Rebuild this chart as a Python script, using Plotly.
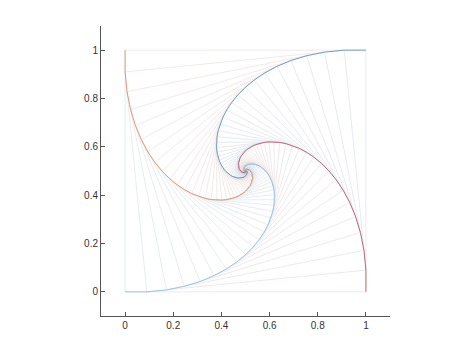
import plotly.graph_objects as go

# --- data: pursuit ("mice") problem on the unit square ---
start_x = [0.0, 1.0, 1.0, 0.0]   # corners: bottom-left, bottom-right, top-right, top-left
start_y = [0.0, 0.0, 1.0, 1.0]
step_fraction = 0.09             # fraction of the gap each point moves per step
n_steps = 90
curve_colors = ["#8cc6e4", "#b85a6c", "#6594c0", "#e5906a"]
edge_colors = ["rgba(165,185,200,0.35)", "rgba(195,170,175,0.35)",
               "rgba(165,180,200,0.35)", "rgba(205,180,170,0.35)"]
tick_vals = [0, 0.2, 0.4, 0.6, 0.8, 1]
tick_text = ["0", "0.2", "0.4", "0.6", "0.8", "1"]

# simulate the pursuit: each point moves toward the next one
xs = [[v] for v in start_x]
ys = [[v] for v in start_y]
px, py = list(start_x), list(start_y)
for _ in range(n_steps):
    nx = [px[i] + step_fraction * (px[(i + 1) % 4] - px[i]) for i in range(4)]
    ny = [py[i] + step_fraction * (py[(i + 1) % 4] - py[i]) for i in range(4)]
    px, py = nx, ny
    for i in range(4):
        xs[i].append(px[i])
        ys[i].append(py[i])

fig = go.Figure()

# edges: from each point to the point chasing it
for i in range(4):
    j = (i - 1) % 4
    ex, ey = [], []
    for k in range(n_steps + 1):
        ex += [xs[i][k], xs[j][k], None]
        ey += [ys[i][k], ys[j][k], None]
    fig.add_trace(go.Scatter(x=ex, y=ey, mode="lines",
                             line=dict(color=edge_colors[i], width=0.8),
                             hoverinfo="skip", showlegend=False))

for i in range(4):
    fig.add_trace(go.Scatter(x=xs[i], y=ys[i], mode="lines",
                             line=dict(color=curve_colors[i], width=0.9),
                             showlegend=False))

axis_common = dict(
    showgrid=False, zeroline=False, showline=True, linecolor="#555555",
    linewidth=1, ticks="inside", ticklen=4, tickcolor="#555555",
    tickvals=tick_vals, ticktext=tick_text,
    tickfont=dict(family="Liberation Sans, Arial, sans-serif", size=10, color="#333333"),
    range=[-0.1, 1.1], mirror=False,
)
fig.update_layout(
    width=474, height=355,
    margin=dict(l=101, r=84, t=26, b=39),
    paper_bgcolor="white", plot_bgcolor="white",
    xaxis=axis_common, yaxis=axis_common,
)
fig.write_html("out.html")
